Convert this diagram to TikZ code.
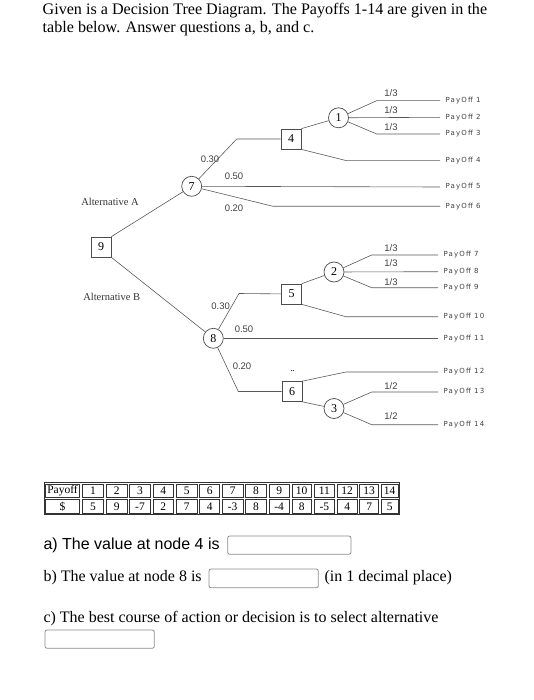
\documentclass[tikz,border=0pt]{standalone}
\usepackage{fontspec}
\setmainfont{Liberation Serif}
\newfontfamily\sansf{Liberation Sans}
\newfontfamily\payf[LetterSpace=16]{DejaVu Sans}
\begin{document}
\begin{tikzpicture}[x=1pt,y=-1pt,
  tl/.style={draw=black!65,line width=0.6pt},
  chance/.style={circle,draw=black!70,line width=0.7pt,fill=white,minimum size=20pt,inner sep=0pt,font=\fontsize{12}{12}\selectfont},
  decis/.style={rectangle,draw=black!70,line width=0.7pt,fill=white,minimum size=20pt,inner sep=0pt,font=\fontsize{12}{12}\selectfont},
  prob/.style={font=\sansf\fontsize{9.5}{10}\selectfont,text=black!75,inner sep=0pt},
  pay/.style={anchor=west,inner xsep=5.5pt,inner ysep=0pt,font=\payf\fontsize{7}{7}\selectfont,text=black!75},
  alt/.style={font=\fontsize{10.5}{11}\selectfont,text=black!80,inner sep=0pt},
  tabf/.style={font=\fontsize{11.5}{12}\selectfont,inner sep=0pt},
  cellb/.style={draw=black!80,line width=0.6pt},
  qbox/.style={draw=black!45,line width=0.8pt,rounded corners=2pt,inner sep=0pt},
  qs/.style={anchor=west,inner sep=0pt,font=\sansf\fontsize{16}{18}\selectfont},
  qr/.style={anchor=west,inner sep=0pt,font=\fontsize{16}{18}\selectfont},
  ]
\useasboundingbox (0,0) rectangle (534,700);

% title
\node[anchor=base west,inner sep=0pt,font=\fontsize{16.1}{17}\selectfont] (t1) at (42.5,14.5) {Given is a Decision Tree Diagram. The Payoffs 1-14 are given in the};
\node[anchor=base west,inner sep=0pt,font=\fontsize{16.1}{17}\selectfont] (t2) at (42.5,32.2) {table below. Answer questions a, b, and c.};

% tree nodes
\node[decis] (n9) at (101,247) {9};
\node[chance] (n7) at (191.7,186.3) {7};
\node[decis] (n4) at (291,139) {4};
\node[chance] (n1) at (338.5,117.8) {1};
\node[chance] (n8) at (213.3,338.3) {8};
\node[decis] (n5) at (291.5,294) {5};
\node[chance] (n2) at (334,272) {2};
\node[decis] (n6) at (292,391.5) {6};
\node[chance] (n3) at (334,408.5) {3};

% payoff labels
\foreach \i/\x/\y in {1/440/100.7,2/440/117.3,3/440/134,4/440/160.7,5/440/187,6/440/206.3,
  7/438/255,8/438/271.7,9/438/287.7,10/438/316.7,11/438/338.3,12/438/372,13/438/392,14/438/424.7}
  \node[pay] (p\i) at (\x,\y) {PayOff \i};

% connectors
\draw[tl] (n9.north east) -- (n7);
\draw[tl] (n9.south east) -- (n8);
\draw[tl] (n7) -- (236.7,139) -- (n4);
\draw[tl] (n7) -- (p5.west);
\draw[tl] (n7) -- (273,206.3) -- (p6.west);
\draw[tl] (n4.north east) -- (n1);
\draw[tl] (n4.south east) -- (346.7,160.7) -- (p4.west);
\draw[tl] (n1) -- (376.7,100.7) -- (p1.west);
\draw[tl] (n1) -- (p2.west);
\draw[tl] (n1) -- (376.7,134) -- (p3.west);
\draw[tl] (n8) -- (239,293.5) -- (n5);
\draw[tl] (n8) -- (p11.west);
\draw[tl] (n8) -- (238.3,391.5) -- (n6);
\draw[tl] (n5.north east) -- (n2);
\draw[tl] (n5.south east) -- (345.7,316.7) -- (p10.west);
\draw[tl] (n2) -- (371.7,255) -- (p7.west);
\draw[tl] (n2) -- (p8.west);
\draw[tl] (n2) -- (371.7,287.7) -- (p9.west);
\draw[tl] (n6.north east) -- (346,372) -- (p12.west);
\draw[tl] (n6.south east) -- (n3);
\draw[tl] (n3) -- (371.7,392) -- (p13.west);
\draw[tl] (n3) -- (371.7,424.7) -- (p14.west);

% probabilities
\node[prob] (a30) at (210,159) {0.30};
\node[prob] (a50) at (234,176) {0.50};
\node[prob] (a20) at (234,208) {0.20};
\node[prob] (q1) at (391,93.3) {1/3};
\node[prob] (q2) at (391,110) {1/3};
\node[prob] (q3) at (391,126.7) {1/3};
\node[prob] (b30) at (220.7,306.7) {0.30};
\node[prob] (b50) at (244,329.3) {0.50};
\node[prob] (b20) at (242,366) {0.20};
\node[prob] (r1) at (391,247.7) {1/3};
\node[prob] (r2) at (391,263.3) {1/3};
\node[prob] (r3) at (391,281.7) {1/3};
\node[prob] (s1) at (391,385.7) {1/2};
\node[prob] (s2) at (391,415.7) {1/2};

% alternatives
\node[alt] (altA) at (110,202) {Alternative A};
\node[alt] (altB) at (111.7,296.7) {Alternative B};

% small mark
\node[inner sep=0pt,text=blue!40!black,font=\fontsize{7}{7}\selectfont\bfseries] (mk) at (292.7,371.5) {..};

% table
\draw[draw=black!80,line width=0.8pt] (44,482.7) rectangle (399.3,514.3);
\foreach \a/\b/\h/\v [count=\k from 0] in {44/81/Payoff/\$,81/105/1/5,105/128.3/2/9,128.3/151.7/3/-7,151.7/175/4/2,175/198.3/5/7,198.3/221/6/4,221/244.3/7/-3,244.3/267.7/8/8,267.7/290.7/9/-4,290.7/312.7/10/8,312.7/336/11/-5,336/358.3/12/4,358.3/380/13/7,380/399.3/14/5}{
  \draw[cellb] (\a+1.3,484) rectangle (\b-1.3,497.7);
  \draw[cellb] (\a+1.3,499.7) rectangle (\b-1.3,513);
  \node[tabf] (h\k) at ({(\a+\b)/2},490.9) {\h};
  \node[tabf] (v\k) at ({(\a+\b)/2},506.4) {\v};
}

% questions
\node[qs] (qa) at (43.3,545) {a) The value at node 4 is};
\node[qbox,minimum width=123.3pt,minimum height=18.3pt] (ba) at (289.35,545.15) {};
\node[qr] (qb) at (43.3,577.7) {b) The value at node 8 is};
\node[qbox,minimum width=109.3pt,minimum height=18.7pt] (bb) at (263.65,578.35) {};
\node[qr] (qb2) at (324.3,577.7) {(in 1 decimal place)};
\node[qr] (qc) at (43.3,619) {c) The best course of action or decision is to select alternative};
\node[qbox,minimum width=109.3pt,minimum height=18.3pt] (bc) at (99.65,639.15) {};
\end{tikzpicture}
\end{document}
